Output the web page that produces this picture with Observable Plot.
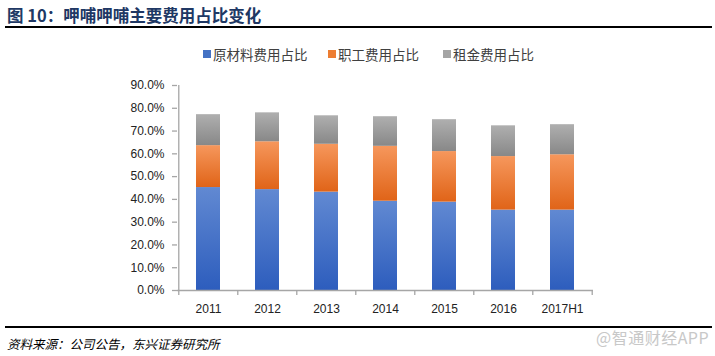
<!DOCTYPE html>
<html><head><meta charset="utf-8">
<script src="https://cdn.jsdelivr.net/npm/d3@7"></script>
<script src="https://cdn.jsdelivr.net/npm/@observablehq/plot@0.6"></script>
<style>
body{margin:0;background:#fff;font-family:"Noto Sans CJK SC","Liberation Sans",sans-serif;}
#wrap{position:relative;width:715px;height:356px;overflow:hidden;background:#fff;}
.abs{position:absolute;white-space:nowrap;}
#title{left:7px;top:3px;font-size:16.5px;font-weight:bold;color:#203864;}
#tline{left:5px;top:26px;width:707px;height:2px;background:#000;}
#bline{left:5px;top:326px;width:707px;height:2px;background:#000;}
#foot{left:7px;top:334px;font-size:12.5px;font-style:italic;color:#000;}
#wm{left:596px;top:325px;font-size:16px;color:#c8c8c8;letter-spacing:0.5px;}
.lg{top:44px;font-size:13.5px;color:#404040;}
.sw{position:absolute;width:8px;height:8px;top:50px;}
#chart{position:absolute;left:0;top:0;}
</style></head>
<body><div id="wrap">
<div id="chart"></div>
<div class="abs" id="title">图 10：呷哺呷哺主要费用占比变化</div>
<div class="abs" id="tline"></div>
<div id="legend"></div>
<div class="abs" id="bline"></div>
<div class="abs" id="foot">资料来源：公司公告，东兴证券研究所</div>
<div class="abs" id="wm">@智通财经APP</div>
</div>
<script>
const categories = ["2011","2012","2013","2014","2015","2016","2017H1"];
const seriesNames = ["原材料费用占比","职工费用占比","租金费用占比"];
const rawMaterial = [45.2, 44.3, 43.2, 39.2, 38.8, 35.3, 35.3];
const labor =       [18.4, 21.0, 21.0, 24.1, 22.2, 23.5, 24.3];
const rent =        [13.6, 12.7, 12.5, 13.0, 14.0, 13.5, 13.2];
const yTicks = [0,10,20,30,40,50,60,70,80,90];

const seriesValues = [rawMaterial, labor, rent];
const data = [];
categories.forEach((c,i)=>seriesNames.forEach((s,j)=>data.push({cat:c, series:s, value:seriesValues[j][i]/100})));

const gradIds = ["gBlue","gOrange","gGray"];
const gradStops = [["#6189d2","#2d5dbd"],["#f6975c","#e06418"],["#afafaf","#888888"]];
const swatch = ["#4472c4","#ed7d31","#a5a5a5"];

const W=715,H=356,mL=177,mR=122,mT=85,mB=66;
const step=(W-mL-mR)/categories.length;
const axisColor="#a6a6a6";

const plot = Plot.plot({
  width:W,height:H,marginLeft:mL,marginRight:mR,marginTop:mT,marginBottom:mB,
  style:{fontFamily:"'Liberation Sans','DejaVu Sans',sans-serif",fontSize:"12px",color:"#222",background:"transparent"},
  x:{domain:categories,paddingInner:0.6,paddingOuter:0.3,label:null},
  y:{domain:[0,0.9],label:null},
  color:{domain:seriesNames,range:gradIds.map(id=>`url(#${id})`)},
  marks:[
    Plot.barY(data,{x:"cat",y:"value",fill:"series",order:seriesNames}),
    Plot.ruleY([0],{stroke:axisColor,strokeWidth:1.3}),
    Plot.ruleX([categories[0]],{x:d=>d,dx:-step/2,y1:0,y2:0.9,stroke:axisColor,strokeWidth:1.3}),
    Plot.ruleX(categories,{x:d=>d,dx:-step/2,y1:0,y2:-0.022,stroke:axisColor,strokeWidth:1.3}),
    Plot.ruleX([categories[categories.length-1]],{x:d=>d,dx:step/2,y1:0,y2:-0.022,stroke:axisColor,strokeWidth:1.3}),
    Plot.axisY(yTicks.map(v=>v/100),{tickFormat:d3.format(".1%"),tickSize:5,tickPadding:8,stroke:axisColor,strokeWidth:1.3,fontSize:12,label:null}),
    Plot.axisX({tickSize:0,tickPadding:14,fontSize:12,label:null})
  ]
});
const svg=d3.select(plot);
const defs=svg.insert("defs",":first-child");
gradIds.forEach((id,k)=>{
  const g=defs.append("linearGradient").attr("id",id).attr("x1",0).attr("y1",0).attr("x2",0).attr("y2",1);
  g.append("stop").attr("offset","0%").attr("stop-color",gradStops[k][0]);
  g.append("stop").attr("offset","100%").attr("stop-color",gradStops[k][1]);
});
document.getElementById("chart").appendChild(plot);

// legend
const lg=document.getElementById("legend");
const lx=[203,328,443];
seriesNames.forEach((s,i)=>{
  const sq=document.createElement("div");sq.className="sw";sq.style.left=lx[i]+"px";sq.style.background=swatch[i];lg.appendChild(sq);
  const t=document.createElement("div");t.className="abs lg";t.style.left=(lx[i]+10)+"px";t.textContent=s;lg.appendChild(t);
});
</script>
</body></html>
